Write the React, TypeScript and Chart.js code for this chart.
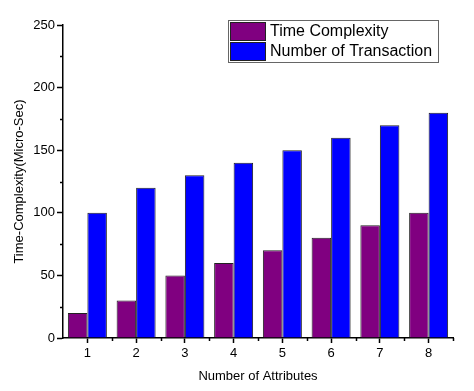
import React, { useEffect, useRef } from "react";
import { Chart, registerables } from "chart.js";

Chart.register(...registerables);

const categories = ["1", "2", "3", "4", "5", "6", "7", "8"];
const timeComplexity = [20, 30, 50, 60, 70, 80, 90, 100];
const numberOfTransaction = [100, 120, 130, 140, 150, 160, 170, 180];
const seriesNames = ["Time Complexity", "Number of Transaction"];
const seriesColors = ["#800080", "#0000FF"];

const FONT = "'Liberation Sans', Arial, sans-serif";

const extrasPlugin = {
  id: "extras",
  afterDraw(chart: any) {
    const ctx = chart.ctx;
    const area = chart.chartArea;
    const y = chart.scales.y;
    const x = chart.scales.x;
    ctx.save();
    ctx.strokeStyle = "#000";
    ctx.lineWidth = 1.5;
    // minor y ticks
    for (let v = 25; v < 250; v += 50) {
      const py = Math.round(y.getPixelForValue(v)) + 0.5;
      ctx.beginPath();
      ctx.moveTo(area.left - 3, py);
      ctx.lineTo(area.left, py);
      ctx.stroke();
    }
    // minor x ticks between categories
    const n = categories.length;
    for (let i = 0; i < n; i++) {
      const p0 = x.getPixelForValue(i);
      const p1 = i < n - 1 ? x.getPixelForValue(i + 1) : p0 + (p0 - x.getPixelForValue(i - 1));
      const px = Math.round((p0 + p1) / 2) + 0.5;
      ctx.beginPath();
      ctx.moveTo(px, area.bottom);
      ctx.lineTo(px, area.bottom + 3);
      ctx.stroke();
    }
    // legend
    const boxRight = area.right - 15;
    const boxLeft = boxRight - 210;
    const boxTop = area.top - 5;
    const boxH = 42;
    ctx.fillStyle = "#fff";
    ctx.fillRect(boxLeft, boxTop, boxRight - boxLeft, boxH);
    ctx.strokeStyle = "#666";
    ctx.lineWidth = 1;
    ctx.strokeRect(boxLeft + 0.5, boxTop + 0.5, boxRight - boxLeft, boxH);
    ctx.font = `16px ${FONT}`;
    ctx.textBaseline = "middle";
    ctx.textAlign = "left";
    chart.data.datasets.forEach((ds: any, i: number) => {
      const top = boxTop + 2 + i * 20;
      ctx.fillStyle = ds.backgroundColor;
      ctx.fillRect(boxLeft + 2, top, 35, 18);
      ctx.strokeStyle = "#222";
      ctx.strokeRect(boxLeft + 2.5, top + 0.5, 35, 18);
      ctx.fillStyle = "#000";
      ctx.fillText(ds.label, boxLeft + 42, top + 10);
    });
    ctx.restore();
  },
};

export default function App() {
  const ref = useRef<HTMLCanvasElement>(null);
  useEffect(() => {
    document.body.style.margin = "0";
    const chart = new Chart(ref.current!, {
      type: "bar",
      data: {
        labels: categories,
        datasets: [
          {
            label: seriesNames[0],
            data: timeComplexity,
            backgroundColor: seriesColors[0],
            borderColor: "#222",
            borderWidth: 1,
            categoryPercentage: 0.8,
            barPercentage: 1.0,
          },
          {
            label: seriesNames[1],
            data: numberOfTransaction,
            backgroundColor: seriesColors[1],
            borderColor: "#222",
            borderWidth: 1,
            categoryPercentage: 0.8,
            barPercentage: 1.0,
          },
        ],
      },
      options: {
        animation: false,
        responsive: false,
        layout: { padding: { top: 25, right: 21, left: 0, bottom: 0 } },
        plugins: { legend: { display: false }, tooltip: { enabled: false } },
        scales: {
          x: {
            offset: true,
            grid: {
              offset: false,
              drawOnChartArea: false,
              drawTicks: true,
              tickLength: 5,
              tickColor: "#000",
              tickWidth: 1.5,
            },
            border: { display: true, color: "#000", width: 1.5 },
            ticks: { color: "#000", font: { family: FONT, size: 13 }, padding: 3 },
            title: {
              display: true,
              text: "Number of Attributes",
              color: "#000",
              font: { family: FONT, size: 13 },
              padding: { top: 7, bottom: 7 },
            },
            afterFit: (s: any) => {
              s.height = 53;
            },
          },
          y: {
            min: 0,
            max: 250,
            ticks: { stepSize: 50, color: "#000", font: { family: FONT, size: 13 }, padding: 2 },
            grid: {
              drawOnChartArea: false,
              drawTicks: true,
              tickLength: 6,
              tickColor: "#000",
              tickWidth: 1.5,
            },
            border: { display: true, color: "#000", width: 1.5 },
            title: {
              display: true,
              text: "Time-Complexity(Micro-Sec)",
              color: "#000",
              font: { family: FONT, size: 13 },
              padding: { top: 12, bottom: 12 },
            },
            afterFit: (s: any) => {
              s.width = 63;
            },
          },
        },
      },
      plugins: [extrasPlugin],
    });
    return () => chart.destroy();
  }, []);
  return <canvas ref={ref} width={474} height={391} style={{ display: "block" }} />;
}
